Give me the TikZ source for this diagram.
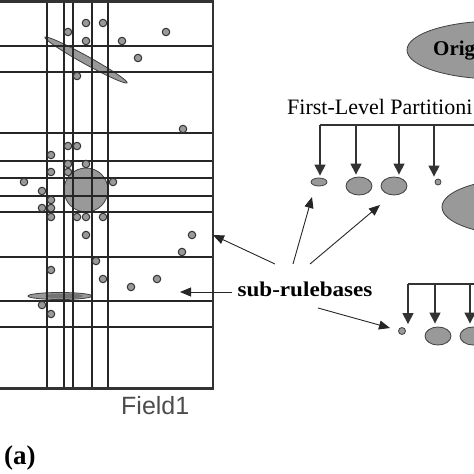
\documentclass[tikz,border=0pt]{standalone}
\usepackage{fontspec}
\setmainfont{Liberation Serif}
\newfontfamily\labelsans{Liberation Sans}
\usetikzlibrary{arrows.meta,shapes.geometric}
\tikzset{
  gridline/.style={black!85, line width=1.1pt},
  rule/.style={circle, draw=black!80, fill=black!40, line width=1pt, inner sep=0pt, minimum size=7.5pt},
  blob/.style={ellipse, draw=black!75, fill=black!40, line width=0.8pt, inner sep=0pt},
  pointer/.style={black!85, line width=0.9pt, -{Triangle[length=11pt,width=9pt]}},
  branch/.style={black!80, line width=1.1pt, -{Triangle[length=11pt,width=11pt]}},
}
\begin{document}
\begin{tikzpicture}
[x=1pt, y=-1pt]
\useasboundingbox (0,0) rectangle (474,474);
\clip (0,0) rectangle (474,474);
% field plot
\node [blob, minimum width=94pt, minimum height=8pt, rotate=-29] (diag) at (86,60) {};
\node [blob, minimum size=44pt] (big) at (86,190) {};
\node [blob, minimum width=64pt, minimum height=7pt] (flat) at (60,296) {};
\node [blob, fill=black!55, draw=none, minimum width=38pt, minimum height=5pt] (flatcore) at (64,296) {};
\foreach \x in {47,64,73,92,108} \draw [gridline] (\x,0) -- (\x,388);
\foreach \y in {46,72,133,161,178,196,212,257,301,327} \draw [gridline] (0,\y) -- (213,\y);
\draw [black!80, line width=3pt] (0,1.5) -- (213,1.5);
\draw [black!80, line width=1.5pt] (213,0) -- (213,388);
\draw [black!80, line width=3pt] (0,388) -- (214,388);
\foreach \x/\y [count=\k] in {86/23,103/23,68/32,166/32,86/41,122/41,138/58,77/76,183/129,68/146,77/146,51/155,68/164,86/164,51/172,68/172,24/182,113/182,42/191,51/200,42/208,51/208,51/217,77/217,86/217,103/217,86/235,192/235,182/252,96/261,51/270,103/279,157/279,131/287,42/305,51/314}
  \node [rule] (r\k) at (\x,\y) {};
\node [anchor=west, inner sep=0pt, text=black!70, font=\labelsans\fontsize{25}{30}\selectfont] (field) at (121,406) {Field1};
\node [anchor=west, inner sep=0pt, font=\bfseries\fontsize{27}{32}\selectfont] (tag) at (4,458) {(a)};
% partition tree
\node [blob, minimum width=180pt, minimum height=58pt] (orig) at (497,50) {};
\node [anchor=west, inner sep=0pt, font=\bfseries\fontsize{21}{25}\selectfont] (origtext) at (433,51) {Orig};
\node [anchor=west, inner sep=0pt, font=\fontsize{22}{26}\selectfont] (first) at (287,107) {First-Level Partitioni};
\coordinate (b1) at (320,125);
\coordinate (b2) at (356,125);
\coordinate (b3) at (399,125);
\coordinate (b4) at (434,125);
\coordinate (bend) at (474,125);
\draw [black!80, line width=1.1pt] (b1) -- (bend);
\node [blob, minimum width=16pt, minimum height=8pt] (c1) at (319,182) {};
\node [blob, minimum width=26pt, minimum height=18pt] (c2) at (359,186) {};
\node [blob, minimum width=26pt, minimum height=18pt] (c3) at (394,186) {};
\node [blob, circle, minimum size=6pt] (c4) at (438,182) {};
\node [blob, minimum width=156pt, minimum height=56pt] (second) at (520,207) {};
\foreach \b/\c in {b1/c1,b2/c2,b3/c3,b4/c4}
  \draw [branch, shorten >=2pt] (\b) -- (\b |- \c.north);
\coordinate (d1b) at (408,284);
\coordinate (d2b) at (435,284);
\coordinate (d3b) at (470,284);
\coordinate (dend) at (474,284);
\draw [black!80, line width=1.1pt] (d1b) -- (dend);
\node [blob, circle, minimum size=7pt] (d1) at (402,331) {};
\node [blob, minimum width=26pt, minimum height=18pt] (d2) at (438,336) {};
\node [blob, minimum width=26pt, minimum height=18pt] (d3) at (473,336) {};
\foreach \b/\c in {d1b/d1,d2b/d2,d3b/d3}
  \draw [branch, shorten >=3pt] (\b) -- (\b |- \c.north);
% sub-rulebases pointers
\node [font=\bfseries\fontsize{21}{25}\selectfont, xscale=1.1] (sub) at (305,289) {sub-rulebases};
\coordinate (s1) at (275,264);
\coordinate (s2) at (293,264);
\coordinate (s3) at (310,264);
\coordinate (s4) at (232,292);
\coordinate (s5) at (318,308);
\coordinate (t1) at (213,235);
\coordinate (t2) at (312,197);
\coordinate (t3) at (380,205);
\coordinate (t4) at (180,292);
\coordinate (t5) at (390,328);
\foreach \s/\t in {s1/t1,s2/t2,s3/t3,s4/t4,s5/t5}
  \draw [pointer] (\s) -- (\t);
\end{tikzpicture}
\end{document}
